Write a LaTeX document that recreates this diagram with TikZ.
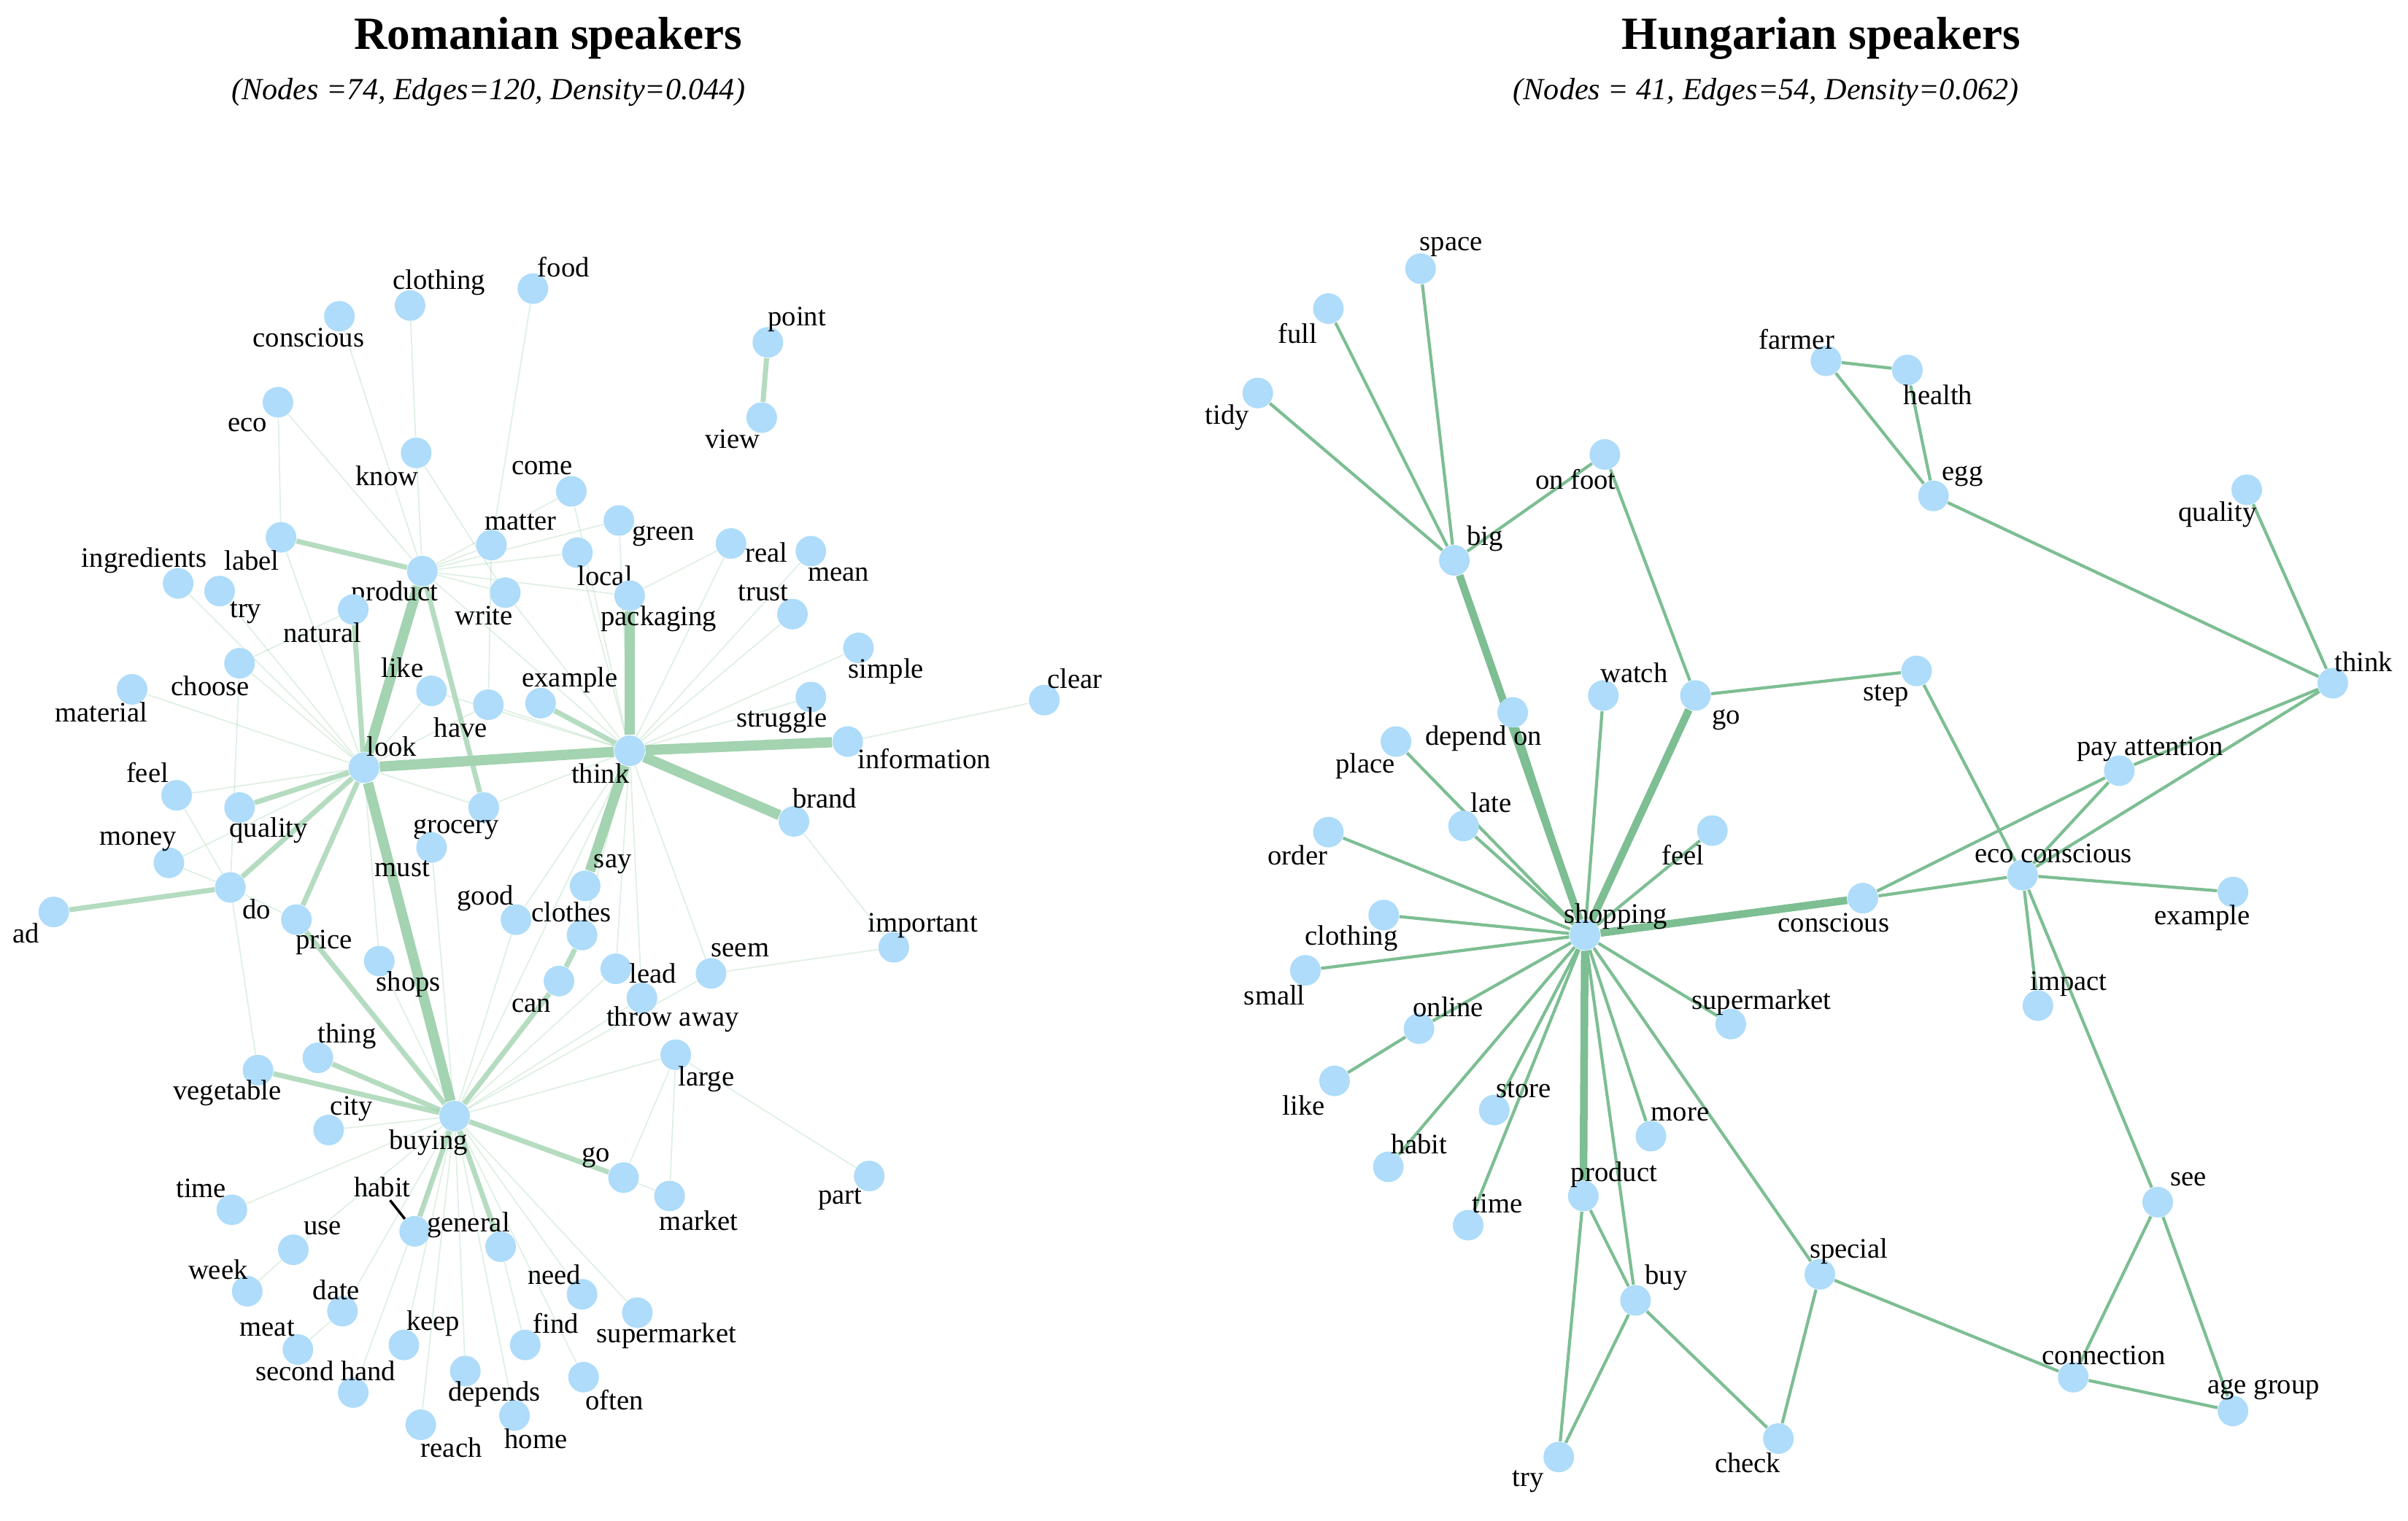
\documentclass[tikz,border=0pt]{standalone}
\usepackage{fontspec}
\setmainfont{Liberation Serif}
\usetikzlibrary{backgrounds}
\definecolor{nodeblue}{HTML}{AEDCFA}
\definecolor{leftgreen}{HTML}{A3D3B0}
\definecolor{rightgreen}{HTML}{7DBE93}
\tikzset{
    word/.style = {circle, fill = nodeblue, minimum size = 0.42cm, inner sep = 0pt},
    wlabel/.style = {font = \fontsize{11}{12}\selectfont, inner sep = 0pt},
    thinL/.style = {leftgreen, opacity = 0.35, line width = 0.5pt},
    midL/.style = {leftgreen, opacity = 0.8, line width = 2pt},
    thickL/.style = {leftgreen, line width = 4pt},
    thinR/.style = {rightgreen, line width = 1.2pt},
    thickR/.style = {rightgreen, line width = 3pt},
    title/.style = {font = \fontsize{18}{20}\selectfont\bfseries},
    subtitle/.style = {font = \fontsize{12}{14}\selectfont\itshape}
}

\begin{document}
\begin{tikzpicture}[x=0.02105cm, y=-0.02105cm]
    \useasboundingbox (0,0) rectangle (1568,990.5);

    % Titles
    \node[title] (titleL) at (357,25) {Romanian speakers};
    \node[subtitle] (subL) at (318,60) {(Nodes =74, Edges=120, Density=0.044)};
    \node[title] (titleR) at (1186,25) {Hungarian speakers};
    \node[subtitle] (subR) at (1150,60) {(Nodes = 41, Edges=54, Density=0.062)};

    % Romanian nodes
    \foreach \n/\x/\y/\lx/\ly/\t in {
        conscious/221/206/201/220/conscious, clothing/267/199/286/184/clothing,
        food/347/188/367/174/food, point/500/223/519/208/point,
        view/496/272/477/286/view, eco/181/262/161/277/eco,
        know/271/295/252/310/know, come/372/320/353/305/come,
        matter/320/355/339/340/matter, green/403/339/432/349/green,
        label/183/350/164/365/label, ingredients/116/380/94/365/ingredients,
        try/143/385/160/399/try, product/275/372/257/387/product,
        local/376/360/394/375/local, real/476/354/499/360/real,
        mean/528/359/546/374/mean, write/329/386/315/401/write,
        packaging/410/388/429/403/packaging, natural/230/397/210/412/natural,
        trust/516/400/497/386/trust, simple/559/422/577/437/simple,
        choose/156/432/137/447/choose, material/86/449/66/464/material,
        like/281/450/262/435/like, have/318/459/300/474/have,
        example/352/458/371/443/example, struggle/528/454/509/469/struggle,
        clear/680/456/700/442/clear, look/237/500/255/486/look,
        think/410/489/391/504/think, information/552/483/602/494/information,
        brand/517/535/537/520/brand, feel/115/518/96/503/feel,
        quality/156/526/175/541/quality, grocery/315/526/297/540/grocery,
        money/110/562/90/548/money, must/281/552/262/566/must,
        say/381/577/399/563/say, do/150/578/167/592/do,
        ad/35/594/17/608/ad, price/193/599/211/614/price,
        good/336/599/316/585/good, clothes/379/609/372/594/clothes,
        important/582/617/601/603/important, shops/247/626/266/641/shops,
        seem/463/634/482/619/seem, lead/401/631/425/634/lead,
        can/364/639/346/655/can, throwaway/418/650/438/664/throw away,
        thing/207/689/226/675/thing, large/440/687/460/703/large,
        vegetable/168/697/148/712/vegetable, buying/296/727/279/744/buying,
        city/214/736/229/722/city, go/406/767/388/754/go,
        part/566/766/547/781/part, market/436/779/455/795/market,
        time/151/788/131/774/time, habit/270/802/249/773/habit,
        general/326/812/305/798/general, use/191/814/210/800/use,
        need/379/843/361/830/need, week/161/841/142/827/week,
        date/223/854/219/840/date, supermarket/415/855/434/870/supermarket,
        meat/194/879/174/865/meat, keep/263/876/282/862/keep,
        find/342/876/362/862/find, secondhand/230/907/212/893/second hand,
        depends/303/893/322/908/depends, often/380/897/400/912/often,
        reach/274/928/294/943/reach, home/335/922/349/937/home}
    {
        \node[word] (r\n) at (\x,\y) {};
        \node[wlabel] (rl\n) at (\lx,\ly) {\t};
    }
    \draw[black, line width = 1pt] (rlhabit.south) ++(5,2) -- (rhabit);

    % Romanian edges
    \begin{pgfonlayer}{background}
        \foreach \a/\b in {look/think, look/product, look/buying, think/packaging,
            think/information, think/brand, think/say}
            \draw[thickL] (r\a) -- (r\b);
        \foreach \a/\b in {product/label, product/grocery, look/natural, look/quality,
            look/price, look/do, price/buying, thing/buying, buying/general, buying/habit,
            buying/can, can/clothes, ad/do, point/view, buying/go, think/example,
            vegetable/buying}
            \draw[midL] (r\a) -- (r\b);
        \foreach \a/\b in {product/conscious, product/know, clothing/know, eco/product,
            eco/label, food/matter, matter/product, come/product, green/product,
            local/product, packaging/product, write/product, know/write, come/think,
            local/think, green/think, real/packaging, real/think, mean/think, trust/think,
            simple/think, struggle/think, clear/information, write/think, matter/have,
            have/think, like/look, have/look, ingredients/look, try/look, label/look,
            material/look, choose/look, choose/do, natural/choose, feel/look, money/look,
            money/do, feel/do, grocery/think, grocery/look, must/buying, good/buying,
            good/think, clothes/think, lead/think, lead/buying, throwaway/think,
            throwaway/buying, seem/important, seem/buying, seem/think, important/brand,
            shops/buying, shops/look, large/buying, large/go, large/market, large/part,
            market/go, city/buying, time/buying, use/buying, week/use, date/buying,
            meat/date, secondhand/buying, keep/buying, reach/buying, depends/buying,
            home/buying, find/general, need/buying, supermarket/buying, often/buying,
            vegetable/do, do/price, buying/think, like/think, product/think}
            \draw[thinL] (r\a) -- (r\b);
    \end{pgfonlayer}

    % Hungarian nodes
    \foreach \n/\x/\y/\lx/\ly/\t in {
        space/925/175/945/161/space, full/865/201/845/217/full,
        tidy/819/256/799/272/tidy, farmer/1189/235/1170/221/farmer,
        health/1242/241/1262/257/health, onfoot/1045/296/1026/312/on foot,
        egg/1259/323/1278/310/egg, quality/1463/319/1444/335/quality,
        big/947/365/967/351/big, watch/1044/453/1064/438/watch,
        go/1104/453/1124/469/go, step/1248/437/1228/453/step,
        think/1519/445/1539/431/think, dependon/985/464/966/481/depend on,
        place/909/483/889/499/place, payattention/1380/502/1400/488/pay attention,
        late/953/538/971/523/late, order/865/542/845/557/order,
        feel/1115/541/1096/557/feel, ecoconscious/1317/570/1337/556/eco conscious,
        example/1454/581/1434/598/example, shopping/1032/609/1052/597/shopping,
        conscious/1213/585/1194/601/conscious, clothing/901/596/880/611/clothing,
        small/850/632/830/648/small, impact/1327/655/1347/641/impact,
        supermarket/1127/667/1147/653/supermarket, online/924/670/943/656/online,
        like/869/704/849/720/like, store/973/723/992/710/store,
        more/1075/740/1094/726/more, habit/904/760/924/745/habit,
        product/1031/779/1051/765/product, see/1405/783/1425/768/see,
        time/956/798/975/784/time, buy/1065/847/1085/832/buy,
        special/1185/830/1204/815/special, connection/1350/897/1370/883/connection,
        check/1158/937/1138/953/check, agegroup/1454/919/1474/905/age group,
        try/1015/949/995/965/try}
    {
        \node[word] (h\n) at (\x,\y) {};
        \node[wlabel] (hl\n) at (\lx,\ly) {\t};
    }

    % Hungarian edges
    \begin{pgfonlayer}{background}
        \foreach \a/\b in {big/shopping, go/shopping, shopping/conscious, shopping/product}
            \draw[thickR] (h\a) -- (h\b);
        \foreach \a/\b in {space/big, full/big, tidy/big, big/onfoot, onfoot/go,
            farmer/health, farmer/egg, health/egg, egg/think, quality/think,
            think/payattention, think/ecoconscious, go/step, step/ecoconscious,
            payattention/conscious, payattention/ecoconscious, conscious/ecoconscious,
            ecoconscious/example, ecoconscious/impact, ecoconscious/see,
            shopping/watch, shopping/feel, shopping/place, shopping/late, shopping/order,
            shopping/clothing, shopping/small, shopping/online, shopping/habit,
            shopping/store, shopping/time, shopping/more, shopping/buy, shopping/special,
            shopping/supermarket, shopping/dependon, online/like, product/buy,
            product/try, buy/try, buy/check, special/check, special/connection,
            connection/agegroup, see/connection, see/agegroup}
            \draw[thinR] (h\a) -- (h\b);
    \end{pgfonlayer}
\end{tikzpicture}
\end{document}
